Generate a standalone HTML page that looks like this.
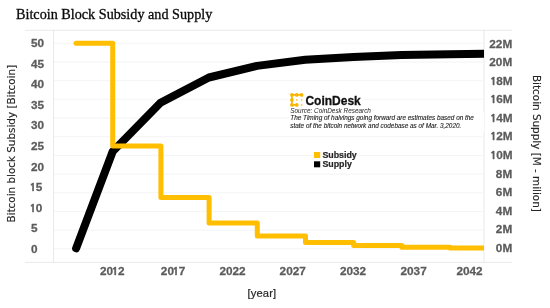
<!DOCTYPE html>
<html><head><meta charset="utf-8"><title>Bitcoin Block Subsidy and Supply</title>
<style>
html,body{margin:0;padding:0;background:#fff;}
body{width:550px;height:308px;overflow:hidden;}
svg{display:block;}
.t{font-family:"Liberation Sans",Arial,sans-serif;font-weight:bold;font-size:11px;fill:#5c5c5c;stroke:#5c5c5c;stroke-width:0.25px;}
.ax{font-family:"DejaVu Sans","Liberation Sans",sans-serif;font-size:10.4px;fill:#262626;stroke:#262626;stroke-width:0.15px;}
.one{font-family:"NanumGothic","Liberation Sans",sans-serif;font-size:10.2px;stroke-width:0.5px;}
.n{font-family:"Liberation Sans",Arial,sans-serif;font-style:italic;font-size:6.4px;fill:#1e1e1e;}
</style></head><body>
<svg width="550" height="308" viewBox="0 0 550 308">
<rect width="550" height="308" fill="#fff"/>
<text x="16" y="18.6" font-family="Liberation Serif, Times New Roman, serif" font-size="14.2" fill="#0a0a0a" stroke="#0a0a0a" stroke-width="0.3">Bitcoin Block Subsidy and Supply</text>

<g fill="#e9e9e9">
<rect x="25" y="29.8" width="487" height="1"/>
<rect x="25" y="261.9" width="487" height="1"/>
<rect x="53" y="29.6" width="1" height="233"/>
<rect x="483.5" y="29.6" width="1" height="233"/>
</g>
<g fill="#f4f4f4">
<rect x="54" y="248.3" width="429.5" height="1"/>
<rect x="54" y="229.6" width="429.5" height="1"/>
<rect x="54" y="210.9" width="429.5" height="1"/>
<rect x="54" y="192.3" width="429.5" height="1"/>
<rect x="54" y="173.6" width="429.5" height="1"/>
<rect x="54" y="154.9" width="429.5" height="1"/>
<rect x="54" y="136.2" width="429.5" height="1"/>
<rect x="54" y="117.5" width="429.5" height="1"/>
<rect x="54" y="98.8" width="429.5" height="1"/>
<rect x="54" y="80.2" width="429.5" height="1"/>
<rect x="54" y="61.5" width="429.5" height="1"/>
<rect x="54" y="42.8" width="429.5" height="1"/>
</g>
<rect x="289" y="88" width="75" height="24" fill="#fff"/>
<rect x="289" y="112" width="195" height="20" fill="#fff"/>
<g class="t">
<text transform="translate(31,253.10) scale(1.07,1)">0</text>
<text transform="translate(31,232.49) scale(1.07,1)">5</text>
<text transform="translate(31,211.88) scale(1.07,1)"><tspan class="one" dx="-1.31">1</tspan><tspan dx="-0.34">0</tspan></text>
<text transform="translate(31,191.27) scale(1.07,1)"><tspan class="one" dx="-1.31">1</tspan><tspan dx="-0.34">5</tspan></text>
<text transform="translate(31,170.66) scale(1.07,1)">20</text>
<text transform="translate(31,150.05) scale(1.07,1)">25</text>
<text transform="translate(31,129.44) scale(1.07,1)">30</text>
<text transform="translate(31,108.83) scale(1.07,1)">35</text>
<text transform="translate(31,88.22) scale(1.07,1)">40</text>
<text transform="translate(31,67.61) scale(1.07,1)">45</text>
<text transform="translate(31,47.00) scale(1.07,1)">50</text>
<text transform="translate(512.20,251.85) scale(1.07,1)" text-anchor="end">0M</text>
<text transform="translate(512.20,233.28) scale(1.07,1)" text-anchor="end">2M</text>
<text transform="translate(512.20,214.70) scale(1.07,1)" text-anchor="end">4M</text>
<text transform="translate(512.20,196.13) scale(1.07,1)" text-anchor="end">6M</text>
<text transform="translate(512.20,177.56) scale(1.07,1)" text-anchor="end">8M</text>
<text transform="translate(513.97,158.99) scale(1.07,1)" text-anchor="end"><tspan class="one" dx="-1.31">1</tspan><tspan dx="-0.34">0</tspan>M</text>
<text transform="translate(513.97,140.41) scale(1.07,1)" text-anchor="end"><tspan class="one" dx="-1.31">1</tspan><tspan dx="-0.34">2</tspan>M</text>
<text transform="translate(513.97,121.84) scale(1.07,1)" text-anchor="end"><tspan class="one" dx="-1.31">1</tspan><tspan dx="-0.34">4</tspan>M</text>
<text transform="translate(513.97,103.27) scale(1.07,1)" text-anchor="end"><tspan class="one" dx="-1.31">1</tspan><tspan dx="-0.34">6</tspan>M</text>
<text transform="translate(513.97,84.70) scale(1.07,1)" text-anchor="end"><tspan class="one" dx="-1.31">1</tspan><tspan dx="-0.34">8</tspan>M</text>
<text transform="translate(512.20,66.12) scale(1.07,1)" text-anchor="end">20M</text>
<text transform="translate(512.20,47.55) scale(1.07,1)" text-anchor="end">22M</text>
<text transform="translate(112.28,274.6) scale(1.07,1)" text-anchor="middle">20<tspan class="one" dx="-1.31">1</tspan><tspan dx="-0.34">2</tspan></text>
<text transform="translate(173.08,274.6) scale(1.07,1)" text-anchor="middle">20<tspan class="one" dx="-1.31">1</tspan><tspan dx="-0.34">7</tspan></text>
<text transform="translate(232.50,274.6) scale(1.07,1)" text-anchor="middle">2022</text>
<text transform="translate(292.70,274.6) scale(1.07,1)" text-anchor="middle">2027</text>
<text transform="translate(353.00,274.6) scale(1.07,1)" text-anchor="middle">2032</text>
<text transform="translate(413.60,274.6) scale(1.07,1)" text-anchor="middle">2037</text>
<text transform="translate(469.50,274.6) scale(1.07,1)" text-anchor="middle">2042</text>
</g>
<text x="247.5" y="297" font-family="Liberation Sans, Arial, sans-serif" font-size="11.2" fill="#262626" stroke="#262626" stroke-width="0.2" letter-spacing="0.13">[year]</text>
<text class="ax" transform="translate(14.6,143.7) rotate(-90)" text-anchor="middle">Bitcoin block Subsidy [Bitcoin]</text>
<text class="ax" transform="translate(533.2,143.4) rotate(90)" text-anchor="middle">Bitcoin Supply [M - milion]</text>
<defs><clipPath id="pc"><rect x="0" y="0" width="484" height="308"/></clipPath></defs>
<g clip-path="url(#pc)"><path d="M76.1,248.3 L112.7,151.5 L160.5,102.8 L208.9,77.5 L257.0,65.9 L305.2,59.8 L353.4,57.1 L401.6,55.0 L449.8,54.3 L490.0,53.8" fill="none" stroke="#000" stroke-width="8" stroke-linejoin="round" stroke-linecap="round"/>
<path d="M76,43.3 H112.7 V146.1 H160.9 V197.4 H209.1 V223.1 H257.3 V236.0 H305.5 V242.4 H353.7 V245.6 H401.9 V247.2 H450.1 V248.0 H490" fill="none" stroke="#ffbf00" stroke-width="5" stroke-linejoin="round" stroke-linecap="round"/></g>
<path d="M301.60,94.9 H291.9 V104.9 H296.75" fill="none" stroke="#f9b600" stroke-width="1.7" stroke-linejoin="round"/>
<g fill="#f9b600">
<circle cx="291.90" cy="94.90" r="1.85"/>
<circle cx="296.75" cy="94.90" r="1.85"/>
<circle cx="301.60" cy="94.90" r="1.85"/>
<circle cx="291.90" cy="99.90" r="1.85"/>
<circle cx="291.90" cy="104.90" r="1.85"/>
<circle cx="296.75" cy="104.90" r="1.85"/>
</g><g fill="#f7c847">
<circle cx="296.75" cy="99.90" r="0.9"/>
<circle cx="301.60" cy="99.90" r="0.9"/>
<circle cx="301.60" cy="104.90" r="0.9"/>
</g>
<text x="305.4" y="104.5" font-family="Liberation Sans, Arial, sans-serif" font-weight="bold" font-size="12" fill="#111" stroke="#111" stroke-width="0.3">CoinDesk</text>
<g class="n">
<text x="290.3" y="113">Source: CoinDesk Research</text>
<text x="290.3" y="120.25" stroke="#1e1e1e" stroke-width="0.12">The Timing of halvings going forward are estimates based on the</text>
<text x="290.3" y="127.5" stroke="#1e1e1e" stroke-width="0.12">state of the bitcoin network and codebase as of Mar. 3,2020.</text>
</g>
<rect x="314" y="152" width="6.2" height="6" fill="#ffbf00"/>
<rect x="314" y="161.3" width="6.2" height="6" fill="#000"/>
<g font-family="Liberation Sans, Arial, sans-serif" font-weight="bold" font-size="8.85" fill="#262626" stroke="#262626" stroke-width="0.2">
<text x="322.4" y="157.6">Subsidy</text>
<text x="322.4" y="166.6">Supply</text>
</g>
</svg>
</body></html>
